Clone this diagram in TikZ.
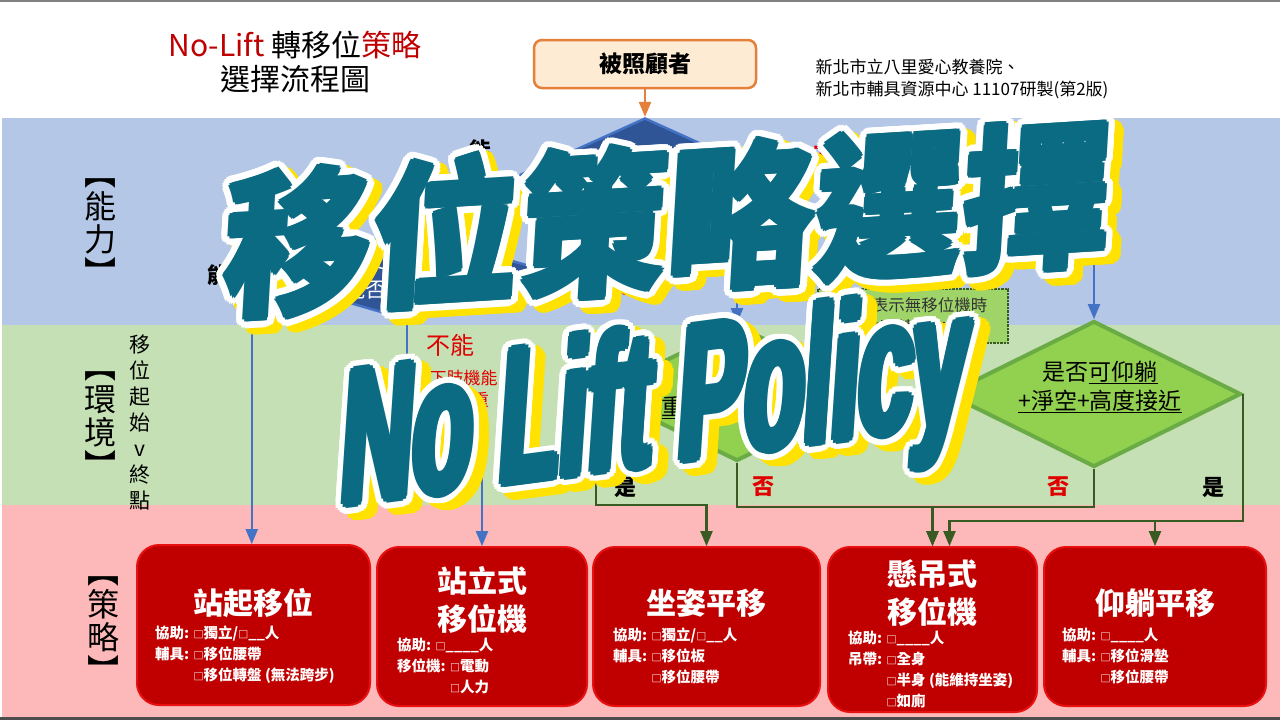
\documentclass[tikz,border=0pt]{standalone}
\usepackage{fontspec}
\setmainfont{Noto Sans CJK TC}
\newfontfamily\enfont{Liberation Sans}
\usetikzlibrary{arrows,shapes.geometric,calc}

\definecolor{bandblue}{HTML}{B4C7E7}
\definecolor{bandgreen}{HTML}{C5E0B4}
\definecolor{bandpink}{HTML}{FDB9B9}
\definecolor{titlered}{HTML}{C00000}
\definecolor{nored}{HTML}{E00000}
\definecolor{carerfill}{HTML}{FDEBD3}
\definecolor{carerline}{HTML}{E5803A}
\definecolor{chkfill}{HTML}{2F5597}
\definecolor{chkline}{HTML}{4472C4}
\definecolor{diafill}{HTML}{92D050}
\definecolor{dialine}{HTML}{6AAB45}
\definecolor{pathgreen}{HTML}{3A5A24}
\definecolor{notefill}{HTML}{9FD469}
\definecolor{boxfill}{HTML}{C00000}
\definecolor{boxline}{HTML}{E81010}
\definecolor{ovteal}{HTML}{0B6B83}
\definecolor{ovyellow}{HTML}{FFE200}

\newcommand\ckbox{{\fontsize{10}{10}\selectfont □}}

\tikzset{
	bluepath/.style={draw=chkline, line width=2.5pt, -triangle 45},
	greenpath/.style={draw=pathgreen, line width=2.5pt, -triangle 45},
	greenline/.style={draw=pathgreen, line width=2.5pt},
	chkblue/.style={diamond, draw=chkline, line width=2.5pt, fill=chkfill, inner sep=0pt},
	chkgreen/.style={diamond, draw=dialine, line width=4pt, fill=diafill, inner sep=0pt},
	chktext/.style={align=center, inner sep=0pt},
	lbl/.style={font=\bfseries\fontsize{22}{24}\selectfont, inner sep=0pt},
	sidelabel/.style={align=center, font=\fontsize{32}{33}\selectfont},
	stratbox/.style={draw=boxline, line width=2pt, fill=boxfill, rounded corners=22pt},
	boxtitle/.style={text=white, align=center, font=\bfseries\fontsize{30}{38}\selectfont},
	boxnote/.style={text=white, align=left, anchor=north west, inner sep=0pt, font=\bfseries\fontsize{14.5}{21}\selectfont},
	bigzh/.style={transform shape, xslant=0.12, yscale=1.06, inner sep=0pt, font=\bfseries\fontsize{148}{148}\selectfont},
	bigen/.style={transform shape, xslant=0.2, xscale=0.52, anchor=base, inner sep=0pt, font=\enfont\bfseries\fontsize{190}{190}\selectfont}
}

\begin{document}
\begin{tikzpicture}[x=1pt,y=-1pt]
	\useasboundingbox (0,0) rectangle (1280,720);
	\fill[white] (0,0) rectangle (1280,720);

	\fill[bandblue] (2,118) rectangle (1280,325);
	\fill[bandgreen] (2,325) rectangle (1280,505);
	\fill[bandpink] (2,505) rectangle (1280,718);
	\draw[gray, line width=2pt] (0,1) -- (1280,1);
	\draw[black!70, line width=3pt] (0,718.5) -- (1280,718.5);

	\node[sidelabel] (capLbl) at (100,232) {︻\\能\\力\\︼};
	\node[sidelabel] (envLbl) at (100,425) {︻\\環\\境\\︼};
	\node[align=center, font=\fontsize{21}{26}\selectfont] (envNote) at (140,423) {移\\位\\起\\始\\v\\終\\點};
	\node[sidelabel] (stratLbl) at (103,630) {︻\\策\\略\\︼};

	\node[align=center, font=\fontsize{30}{34}\selectfont] (mainTitle) at (295,62) {\textcolor{titlered}{No-Lift} 轉移位\textcolor{titlered}{策略}\\選擇流程圖};
	\node[align=left, anchor=west, font=\fontsize{17}{22}\selectfont] (orgNote) at (812,79) {新北市立八里愛心教養院、\\新北市輔具資源中心\ 11107研製(第2版)};

	\node[draw=carerline, fill=carerfill, line width=2.5pt, rounded corners=8pt, minimum width=222pt, minimum height=48pt, font=\bfseries\fontsize{23}{26}\selectfont] (carer) at (645,64) {被照顧者};

	\node[chkblue, minimum width=264pt, minimum height=120pt] (chkA) at (645,178) {};
	\node[chktext, text=white, font=\fontsize{19}{24}\selectfont] (chkAtxt) at (chkA) {下肢能否\\承重站立};
	\node[chkblue, minimum width=308pt, minimum height=90pt] (chkB) at (407,275) {};
	\node[chktext, text=white, font=\fontsize{21}{29}\selectfont] (chkBtxt) at (chkB) {支撐協助\\能否站立移位};
	\node[chkgreen, minimum width=278pt, minimum height=136pt] (chkC) at (737,393) {};
	\node[chktext, font=\fontsize{23}{29}\selectfont] (chkCtxt) at (chkC) {是否\underline{可坐姿}\\\underline{重心側移+淨空}};
	\node[chkgreen, minimum width=294pt, minimum height=146pt] (chkD) at (1094,394) {};
	\node[chktext, font=\fontsize{23}{29}\selectfont] (chkDtxt) at (1100,387) {是否\underline{可仰躺}\\\underline{+淨空+高度接近}};

	\node[draw=pathgreen, densely dotted, line width=2.5pt, fill=notefill, minimum width=190pt, minimum height=54pt, align=center, text=black!80, font=\fontsize{16.5}{22}\selectfont] (dashNote) at (913,316) {虛線表示無移位機時\\勉強替代方式};

	\node[stratbox, minimum width=233pt, minimum height=160pt] (stand) at (253.5,625) {};
	\node[stratbox, minimum width=210pt, minimum height=159pt] (standLift) at (482,626.5) {};
	\node[stratbox, minimum width=227pt, minimum height=159pt] (sitSlide) at (706.5,626.5) {};
	\node[stratbox, minimum width=209pt, minimum height=165pt] (slingLift) at (932.5,629.5) {};
	\node[stratbox, minimum width=222pt, minimum height=159pt] (lieSlide) at (1155,626.5) {};

	\draw[draw=carerline, line width=2.5pt, -triangle 45] (carer) -- (chkA);
	\draw[bluepath] (chkA.west) -| (chkB.north);
	\draw[bluepath] (chkA.south) -- ++(0,24) -| (chkC.north);
	\draw[bluepath] (chkA.east) -| (chkD.north);
	\draw[bluepath] (chkB.west) -- (chkB.west |- stand.north);
	\draw[bluepath] (chkB.south) -- ++(0,135) -| (standLift.north);
	\draw[greenpath] (chkC.west) -- ++(0,112) -| (sitSlide.north);
	\draw[greenpath] (chkC.south) -- ++(0,44) -| (slingLift.north);
	\draw[greenpath] (chkD.south) -- ++(0,38) -| (slingLift.north);
	\path (lieSlide.north) ++(0,-25) coordinate (lieJoin);
	\draw[greenline] (chkD.east) |- (lieJoin);
	\draw[greenpath] (lieJoin) -- (lieSlide.north);
	\draw[greenpath] (lieJoin) -| ([xshift=17pt]slingLift.north);

	\node[lbl] (yesA) at (480,150) {能};
	\node[lbl, text=nored] (noA) at (835,155) {不能};
	\node[lbl, text=nored] (noAdown) at (610,285) {不能};
	\node[lbl] (yesB) at (218,275) {能};
	\node[lbl, text=nored, font=\fontsize{24}{26}\selectfont] (noB) at (450,345) {不能};
	\node[align=center, text=nored, font=\fontsize{17}{22}\selectfont] (noBnote) at (455,389) {但下肢機能\\尚可承重};
	\node[lbl] (yesC) at (625,487) {是};
	\node[lbl, text=nored] (noC) at (763,487) {否};
	\node[lbl, text=nored] (noD) at (1058,487) {否};
	\node[lbl] (yesD) at (1213,487) {是};

	\node[boxtitle] (standTtl) at (253.5,603) {站起移位};
	\node[boxnote] (standNote) at (155,626) {協助: \ckbox 獨立/\ckbox\_\_人\\輔具: \ckbox 移位腰帶\\\phantom{輔具: }\ckbox 移位轉盤 (無法跨步)};
	\node[boxtitle] (liftTtl) at (482,600) {站立式\\移位機};
	\node[boxnote] (liftNote) at (397,638) {協助: \ckbox\_\_\_\_人\\移位機: \ckbox 電動\\\phantom{移位機: }\ckbox 人力};
	\node[boxtitle] (sitTtl) at (706.5,603) {坐姿平移};
	\node[boxnote] (sitNote) at (613,628) {協助: \ckbox 獨立/\ckbox\_\_人\\輔具: \ckbox 移位板\\\phantom{輔具: }\ckbox 移位腰帶};
	\node[boxtitle] (slingTtl) at (932.5,593) {懸吊式\\移位機};
	\node[boxnote] (slingNote) at (848,631) {協助: \ckbox\_\_\_\_人\\吊帶: \ckbox 全身\\\phantom{吊帶: }\ckbox 半身 (能維持坐姿)\\\phantom{吊帶: }\ckbox 如廁};
	\node[boxtitle] (lieTtl) at (1155,603) {仰躺平移};
	\node[boxnote] (lieNote) at (1062,628) {協助: \ckbox\_\_\_\_人\\輔具: \ckbox 移位滑墊\\\phantom{輔具: }\ckbox 移位腰帶};

	% overlay titles
	\begin{scope}[shift={(668,218)}, rotate=3.5]
		\foreach \ang in {0,15,...,345}
			\node[bigzh, text=ovyellow] at ($(8,7)+(\ang:9)$) {移位策略選擇};
		\foreach \ang in {0,15,...,345}
			\node[bigzh, text=white] at (\ang:9) {移位策略選擇};
		\foreach \ang in {0,60,...,300}
			\node[bigzh, text=ovteal] at (\ang:2.5) {移位策略選擇};
		\node[bigzh, text=ovteal] (bigZh) at (0,0) {移位策略選擇};
	\end{scope}
	\begin{scope}[shift={(652,464)}, rotate=7.5]
		\foreach \ang in {0,15,...,345}
			\node[bigen, text=ovyellow] at ($(9,8)+(\ang:10)$) {No Lift Policy};
		\foreach \ang in {0,15,...,345}
			\node[bigen, text=white] at (\ang:10) {No Lift Policy};
		\foreach \ang in {0,45,...,315}
			\node[bigen, text=ovteal] at (\ang:4.5) {No Lift Policy};
		\node[bigen, text=ovteal] (bigEn) at (0,0) {No Lift Policy};
	\end{scope}
\end{tikzpicture}
\end{document}
